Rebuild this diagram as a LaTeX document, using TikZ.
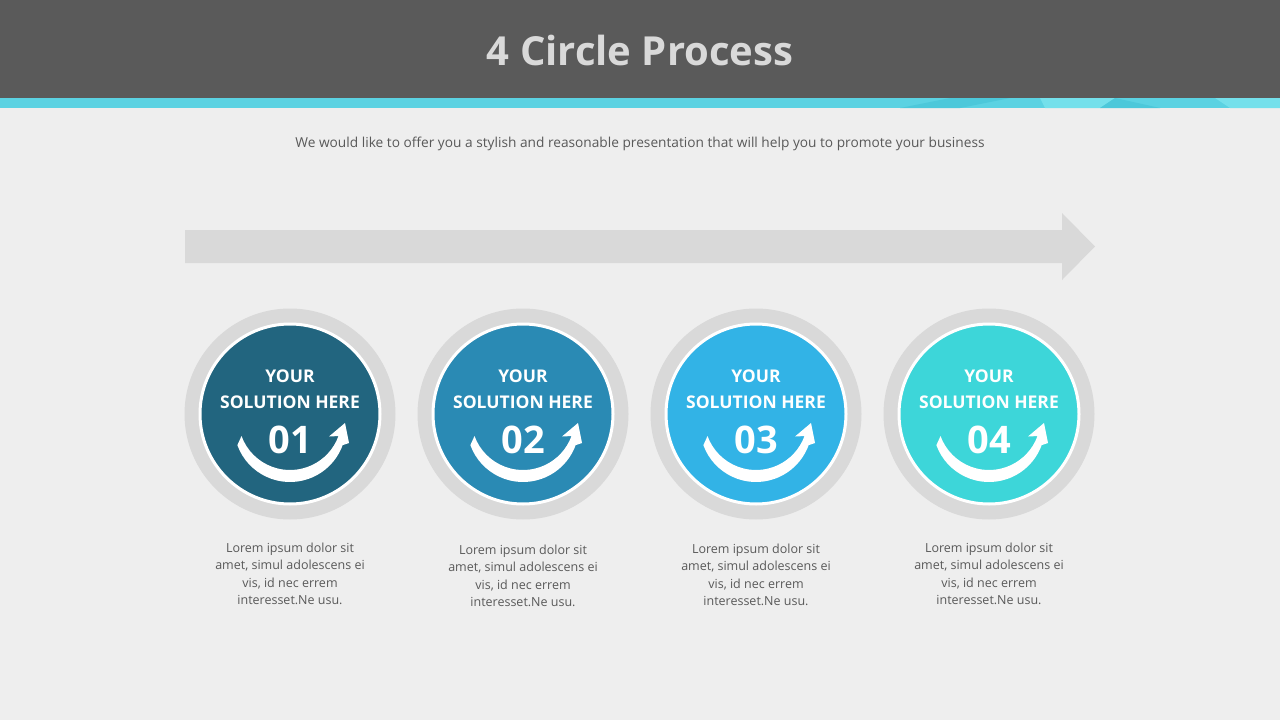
\documentclass[tikz,border=0pt]{standalone}
\usepackage{fontspec}
\setmainfont{Open Sans}
\usepackage{tikz}
\usetikzlibrary{arrows.meta,calc}
\definecolor{SlideBack}{HTML}{EEEEEE}
\definecolor{HeaderGray}{HTML}{5A5A5A}
\definecolor{TitleGray}{HTML}{D9D9D9}
\definecolor{StripCyan}{HTML}{5BD2E2}
\definecolor{StripLight}{HTML}{74E0EB}
\definecolor{StripDark}{HTML}{4CC8DA}
\definecolor{TrackGray}{HTML}{D9D9D9}
\definecolor{BodyGray}{HTML}{595959}
\definecolor{StepOne}{HTML}{22657F}
\definecolor{StepTwo}{HTML}{2A8AB4}
\definecolor{StepThree}{HTML}{32B3E6}
\definecolor{StepFour}{HTML}{3DD6D9}

\tikzset{
  ring/.style={circle,fill=TrackGray,minimum size=211pt,inner sep=0pt},
  disc/.style={circle,draw=white,line width=3pt,fill=#1,minimum size=180pt,inner sep=0pt},
  caption/.style={text=white,font=\fontsize{17.5}{26}\selectfont\bfseries,align=center},
  number/.style={text=white,font=\fontsize{38}{40}\selectfont\bfseries},
  lorem/.style={text=BodyGray,font=\fontsize{12.5}{17.5}\selectfont,align=center}
}

\begin{document}
\begin{tikzpicture}[x=1pt,y=-1pt]
    \useasboundingbox (0,0) rectangle (1280,720);
    \fill[SlideBack] (0,0) rectangle (1280,720);

    % header
    \fill[HeaderGray] (0,0) rectangle (1280,98);
    \fill[StripCyan] (0,98) rectangle (1280,108);
    \fill[StripDark] (950,98) -- (1010,98) -- (960,108) -- (900,108) -- cycle;
    \fill[StripLight] (1040,98) -- (1115,98) -- (1100,108) -- (1045,108) -- cycle;
    \fill[StripDark] (1115,98) -- (1160,108) -- (1100,108) -- cycle;
    \fill[StripLight] (1215,98) -- (1280,98) -- (1280,108) -- (1230,108) -- cycle;
    \node[text=TitleGray,font=\fontsize{40}{44}\selectfont\bfseries] (title) at (640,50) {4 Circle Process};
    \node[text=BodyGray,font=\fontsize{13.7}{16}\selectfont] (subtitle) at (640,143.5)
        {We would like to offer you a stylish and reasonable presentation that will help you to promote your business};

    % big arrow
    \fill[TrackGray] (185,230) -- (1062,230) -- (1062,213) -- (1095,246.5)
        -- (1062,280) -- (1062,263) -- (185,263) -- cycle;

    % steps
    \foreach \i/\x/\col/\ty in {1/290/StepOne/547,2/523/StepTwo/549,3/756/StepThree/548,4/989/StepFour/547}{
        \node[ring] (ring\i) at (\x,414) {};
        \node[disc=\col] (disc\i) at (ring\i) {};
        \node[caption] (cap\i) at (\x,389) {YOUR\\SOLUTION HERE};
        \node[number] (num\i) at (\x,440) {0\i};
        \fill[white] ($(disc\i)+(0,12)+(160:56)$) arc[start angle=160,end angle=20,radius=56]
            -- ($(disc\i)+(59,29)$) -- ($(disc\i)+(55,9)$) -- ($(disc\i)+(39,22.5)$)
            -- ($(disc\i)+(0,4.4)+(20:51.6)$) arc[start angle=20,end angle=160,radius=51.6] -- cycle;
        \node[lorem,anchor=north] (text\i) at (\x,\ty-8) {Lorem ipsum dolor sit\\amet, simul adolescens ei\\vis, id nec errem\\interesset.Ne usu.};
    }
\end{tikzpicture}
\end{document}
